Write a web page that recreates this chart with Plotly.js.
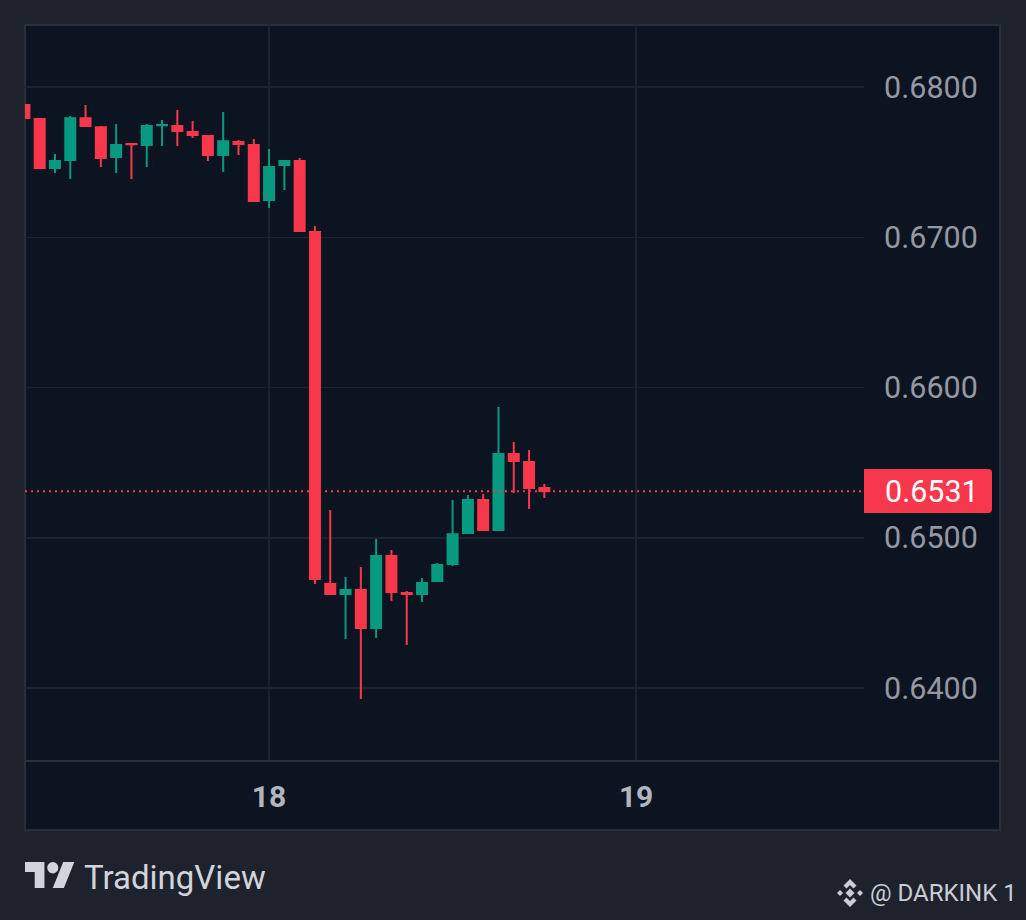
<!DOCTYPE html>
<html><head><meta charset="utf-8">
<script src="https://cdn.plot.ly/plotly-3.0.1.min.js"></script>
<style>html,body{margin:0;padding:0;background:#1E222D;overflow:hidden}#c{width:1026px;height:920px}</style>
</head><body><div id="c"></div>
<script>
const times = [
"2025-06-17 08:00","2025-06-17 09:00","2025-06-17 10:00","2025-06-17 11:00","2025-06-17 12:00","2025-06-17 13:00","2025-06-17 14:00","2025-06-17 15:00",
"2025-06-17 16:00","2025-06-17 17:00","2025-06-17 18:00","2025-06-17 19:00","2025-06-17 20:00","2025-06-17 21:00","2025-06-17 22:00","2025-06-17 23:00",
"2025-06-18 00:00","2025-06-18 01:00","2025-06-18 02:00","2025-06-18 03:00","2025-06-18 04:00","2025-06-18 05:00","2025-06-18 06:00","2025-06-18 07:00",
"2025-06-18 08:00","2025-06-18 09:00","2025-06-18 10:00","2025-06-18 11:00","2025-06-18 12:00","2025-06-18 13:00","2025-06-18 14:00","2025-06-18 15:00",
"2025-06-18 16:00","2025-06-18 17:00","2025-06-18 18:00"];
const opens = [.67880,.67787,.67461,.67514,.67793,.67733,.67534,.67621,.67614,.67746,.67740,.67700,.67674,.67548,.67634,.67614,
.67248,.67481,.67507,.67035,.64692,.64626,.64652,.64399,.64878,.64632,.64626,.64712,.64825,.65032,.65251,.65052,.65557,.65504,.65331];
const highs = [.67887,.67794,.67554,.67807,.67880,.67740,.67754,.67627,.67754,.67780,.67847,.67774,.67681,.67834,.67647,.67654,
.67587,.67514,.67528,.67075,.65185,.64739,.64805,.64991,.64918,.64645,.64732,.64832,.65251,.65284,.65291,.65870,.65637,.65584,.65358];
const lows = [.67787,.67454,.67428,.67388,.67734,.67468,.67428,.67388,.67468,.67607,.67607,.67661,.67508,.67434,.67547,.67235,
.67195,.67314,.67035,.64692,.64619,.64326,.63927,.64333,.64579,.64286,.64572,.64705,.64812,.65025,.65045,.65045,.65298,.65191,.65264];
const closes = [.67794,.67461,.67507,.67793,.67741,.67528,.67614,.67620,.67740,.67747,.67707,.67681,.67548,.67640,.67621,.67242,
.67467,.67507,.67042,.64726,.64626,.64652,.64399,.64878,.64639,.64626,.64698,.64818,.65024,.65251,.65052,.65557,.65511,.65331,.65311];
const lastPrice = 0.6531;
const priceTicks = [0.64,0.65,0.66,0.67,0.68];
const priceLabels = ["0.6400","0.6500","0.6600","0.6700","0.6800"];
const dayTicks = ["2025-06-18 00:00","2025-06-19 00:00"];
const dayLabels = ["18","19"];

const RED2="#F7374B", GREEN="#089981", BG="#1E222D", PANE="#0D1421", GRID="#1C222F", EDGE="#2A2E39";
const W=975,H=805;
const px=x=>(x-25)/W, py=y=>(830-y)/H;
const logo="data:image/svg+xml;utf8,"+encodeURIComponent('<svg xmlns="http://www.w3.org/2000/svg" viewBox="0 4 36 18" preserveAspectRatio="none" width="360" height="180"><path fill="#D1D4DC" d="M14 22H7V11H0V4h14v18zM28 22h-8l7.5-18h8L28 22z"/><circle fill="#D1D4DC" cx="20" cy="8" r="4"/></svg>');
const bin="data:image/svg+xml;utf8,"+encodeURIComponent('<svg xmlns="http://www.w3.org/2000/svg" viewBox="0 0 26 28" width="260" height="280"><g fill="#C9CCD4"><path d="M13 0l6.500 6.500-3 3L13 6 9.500 9.500l-3-3z"/><path d="M13 28l6.500-6.500-3-3L13 22l-3.500-3.500-3 3z"/><path d="M0 14l3-3 3 3-3 3z"/><path d="M20 14l3-3 3 3-3 3z"/><path d="M13 9.500l4.500 4.500-4.500 4.500L8.500 14z"/></g></svg>');

const trace={type:"candlestick",x:times,open:opens,high:highs,low:lows,close:closes,
 increasing:{line:{color:GREEN,width:2},fillcolor:GREEN},
 decreasing:{line:{color:RED2,width:2},fillcolor:RED2},
 whiskerwidth:0,hoverinfo:"skip"};

const layout={width:1026,height:920,autosize:false,margin:{l:25,r:26,t:25,b:90,pad:0},
 paper_bgcolor:BG,plot_bgcolor:PANE,showlegend:false,boxgap:0.346,boxgroupgap:0,
 font:{family:"Roboto, sans-serif"},
 xaxis:{domain:[0,px(864)],range:["2025-06-17 08:02:24","2025-06-19 14:54"],type:"date",rangeslider:{visible:false},
  tickvals:dayTicks,ticktext:dayLabels,showgrid:true,gridcolor:GRID,gridwidth:1.5,zeroline:false,
  ticks:"outside",ticklen:9,tickcolor:"rgba(0,0,0,0)",tickfont:{size:30,color:"#B2B5BE",weight:700},showline:false,anchor:"y"},
 yaxis:{domain:[py(761),1],range:[0.63514,0.68413],side:"right",tickvals:priceTicks,ticktext:priceLabels,
  showgrid:true,gridcolor:GRID,gridwidth:1.5,zeroline:false,ticks:"outside",ticklen:13,tickcolor:"rgba(0,0,0,0)",
  tickfont:{size:30.5,color:"#9598A1"},showline:false,anchor:"x"},
 shapes:[
  {type:"rect",layer:"below",xref:"paper",yref:"paper",x0:0,x1:1,y0:0,y1:1,fillcolor:PANE,line:{color:EDGE,width:2}},
  {type:"line",xref:"paper",yref:"paper",x0:0,x1:1,y0:py(761),y1:py(761),line:{color:EDGE,width:2}},
  {type:"line",xref:"paper",yref:"y",x0:0,x1:px(864),y0:lastPrice,y1:lastPrice,line:{color:RED2,width:2,dash:"2px,4px"}},
  {type:"path",xref:"paper",yref:"paper",fillcolor:RED2,line:{width:0},
   path:`M ${px(864)} ${py(469)} L ${px(988)} ${py(469)} Q ${px(992)} ${py(469)} ${px(992)} ${py(473)} L ${px(992)} ${py(509)} Q ${px(992)} ${py(513)} ${px(988)} ${py(513)} L ${px(864)} ${py(513)} Z`}
 ],
 annotations:[
  {xref:"paper",yref:"paper",x:px(932),y:py(491),text:String(lastPrice),showarrow:false,font:{size:30.5,color:"#FFFFFF"},xanchor:"center",yanchor:"middle"},
  {xref:"paper",yref:"paper",x:px(84),y:py(877),text:"TradingView",showarrow:false,font:{size:33,color:"#D1D4DC"},xanchor:"left",yanchor:"middle",xshift:-2},
  {xref:"paper",yref:"paper",x:px(1019),y:py(893),text:"@ DARKINK 1",showarrow:false,font:{size:24,color:"#C9CCD4"},xanchor:"right",yanchor:"middle"}
 ],
 images:[
  {source:logo,xref:"paper",yref:"paper",x:px(25),y:py(862),sizex:50/W,sizey:26/H,sizing:"stretch",xanchor:"left",yanchor:"top",layer:"above"},
  {source:bin,xref:"paper",yref:"paper",x:px(837),y:py(879),sizex:26/W,sizey:28/H,sizing:"stretch",xanchor:"left",yanchor:"top",layer:"above"}
 ]};
Plotly.newPlot("c",[trace],layout,{staticPlot:true,displayModeBar:false});
</script></body></html>
